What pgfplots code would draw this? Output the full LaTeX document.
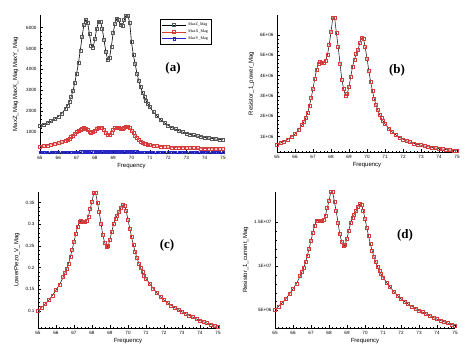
\documentclass[border=0pt]{standalone}
\usepackage{pgfplots}
\pgfplotsset{compat=1.18}
\usepackage{pgfplotstable}
\usepackage{fontspec}
\setmainfont{Liberation Sans}
\newfontfamily\serifb{Liberation Serif}
\definecolor{cred}{RGB}{215,60,60}
\definecolor{cblue}{RGB}{40,40,200}

\pgfplotstableread{
f Z X Y
65.0 1300 300 30
65.2 1360 330 31
65.4 1430 360 32
65.6 1520 390 33
65.8 1620 430 34
66.0 1740 470 35
66.2 1900 520 37
66.4 2120 590 39
66.5 2270 630 40
66.6 2450 680 42
66.7 2680 760 44
66.8 2980 840 46
66.9 3350 920 48
67.0 3800 1000 50
67.1 4300 1070 52
67.2 4900 1130 54
67.3 5550 1170 56
67.4 6150 1190 58
67.5 6380 1180 58
67.6 6250 1120 57
67.7 5700 1040 56
67.8 5150 990 56
67.9 5050 1010 57
68.0 5450 1080 58
68.1 5950 1160 59
68.2 6280 1220 60
68.3 6300 1230 60
68.4 5950 1190 59
68.5 5400 1100 58
68.6 4850 990 57
68.7 4450 880 56
68.8 4550 890 56
68.9 5100 990 57
69.0 5750 1110 58
69.1 6200 1190 59
69.2 6430 1230 60
69.3 6350 1200 60
69.4 6120 1150 60
69.5 6100 1150 60
69.6 6350 1210 61
69.7 6580 1250 62
69.8 6580 1250 62
69.9 6250 1200 61
70.0 5300 1080 59
70.1 4700 950 57
70.2 4250 830 55
70.3 3800 720 53
70.4 3450 630 51
70.5 3150 560 50
70.6 2900 500 49
70.7 2680 460 48
70.8 2500 430 47
70.9 2350 410 46
71.0 2200 390 45
71.2 1960 360 44
71.4 1760 330 43
71.6 1580 310 42
71.8 1440 295 41
72.0 1320 280 40
72.2 1220 270 40
72.4 1140 262 39
72.6 1060 255 39
72.8 1000 250 38
73.0 940 245 38
73.2 890 240 37
73.4 850 235 37
73.6 810 228 36
73.8 780 222 36
74.0 750 216 35
74.2 720 210 35
74.4 695 205 34
74.6 670 200 34
74.8 650 195 33
75.0 630 190 33
}\tableA

% P and I in units of 1E+06
\pgfplotstableread{
f P V I
65.0 0.60 0.100 5.08
65.2 0.68 0.108 5.47
65.4 0.76 0.116 5.87
65.6 0.86 0.125 6.31
65.8 0.98 0.136 6.85
66.0 1.12 0.148 7.44
66.2 1.32 0.161 8.08
66.4 1.58 0.178 8.91
66.5 1.74 0.188 9.40
66.6 1.92 0.198 9.89
66.7 2.15 0.210 10.48
66.8 2.50 0.225 11.22
66.9 2.90 0.242 12.05
67.0 3.35 0.260 12.94
67.1 3.85 0.278 13.82
67.2 4.30 0.294 14.61
67.3 4.60 0.305 15.15
67.4 4.68 0.307 15.24
67.5 4.65 0.305 15.15
67.6 4.65 0.305 15.15
67.7 4.72 0.308 15.29
67.8 5.00 0.318 15.78
67.9 5.50 0.335 16.62
68.0 6.15 0.352 17.45
68.1 6.85 0.372 18.44
68.2 6.85 0.372 18.44
68.3 6.10 0.350 17.36
68.4 5.40 0.328 16.27
68.5 4.60 0.302 15.00
68.6 3.80 0.275 13.67
68.7 3.35 0.258 12.84
68.8 3.02 0.247 12.30
68.9 3.10 0.250 12.45
69.0 3.45 0.265 13.18
69.1 3.95 0.283 14.07
69.2 4.45 0.300 14.90
69.3 4.80 0.312 15.49
69.4 5.05 0.320 15.88
69.5 5.25 0.328 16.27
69.6 5.60 0.338 16.77
69.7 5.85 0.344 17.06
69.8 5.82 0.343 17.01
69.9 5.40 0.330 16.37
70.0 4.85 0.310 15.39
70.1 4.25 0.290 14.41
70.2 3.70 0.270 13.43
70.3 3.25 0.252 12.54
70.4 2.85 0.236 11.76
70.5 2.55 0.222 11.07
70.6 2.30 0.210 10.48
70.7 2.08 0.199 9.94
70.8 1.90 0.190 9.50
70.9 1.75 0.182 9.11
71.0 1.62 0.175 8.76
71.2 1.40 0.163 8.17
71.4 1.22 0.152 7.63
71.6 1.08 0.142 7.14
71.8 0.96 0.133 6.70
72.0 0.86 0.125 6.31
72.2 0.78 0.119 6.01
72.4 0.72 0.113 5.72
72.6 0.66 0.108 5.47
72.8 0.61 0.103 5.23
73.0 0.57 0.098 4.98
73.2 0.53 0.094 4.79
73.4 0.49 0.090 4.59
73.6 0.46 0.086 4.39
73.8 0.43 0.082 4.20
74.0 0.40 0.078 4.00
74.2 0.38 0.075 3.85
74.4 0.35 0.072 3.71
74.6 0.33 0.069 3.56
74.8 0.31 0.066 3.41
75.0 0.29 0.063 3.26
}\tableB

\pgfplotsset{
  panel/.style={
    scale only axis, width=180pt, height=137pt,
    anchor=south west,
    xmin=65, xmax=75, xtick={65,66,...,75},
    minor x tick num=4, minor y tick num=4,
    axis x line*=bottom, axis y line*=left,
    tick align=inside,
    major tick length=3pt, minor tick length=1.5pt,
    tick style={black, line width=0.45pt},
    axis line style={black, line width=0.7pt},
    tick label style={font=\fontsize{4.6}{5}\selectfont},
    label style={font=\fontsize{6}{7}\selectfont},
    /pgf/number format/assume math mode=true,
    /pgf/number format/1000 sep={},
    xlabel={Frequency},
    xlabel style={yshift=3pt},
    ylabel style={yshift=-1pt},
    scaled y ticks=false,
  },
  redser/.style={black!85, line width=0.6pt, mark=square, mark size=1.5pt,
    mark options={draw=cred, solid, line width=0.5pt}},
}

\begin{document}
\begin{tikzpicture}
\path[use as bounding box] (0,0) rectangle (474pt,354pt);

% (a)
\begin{axis}[panel, at={(40pt,201pt)}, width=183pt, height=138pt,
  ymin=0, ymax=6600, ytick={1000,2000,...,6000},
  ylabel={MaxZ\_Mag MaxX\_Mag MaxY\_Mag},
  ylabel style={yshift=2pt},
  legend style={at={(0.656,0.97)}, anchor=north west, draw=black, line width=0.4pt,
    font=\serifb\fontsize{4}{4.5}\selectfont, row sep=-1.2pt, inner sep=1.5pt},
  legend cell align=left,
  legend image code/.code={\draw[mark repeat=2, mark phase=2] plot coordinates {(0pt,0pt) (12pt,0pt) (24pt,0pt)};},
  ]
\addplot[black, line width=0.6pt, mark=square, mark size=1.5pt, mark options={draw=black!65, solid, line width=0.5pt}] table[x=f, y=Z] {\tableA};
\addlegendentry{MaxZ\_Mag}
\addplot[cred, line width=0.6pt, mark=square, mark size=1.5pt, mark options={draw=cred, solid, line width=0.5pt}] table[x=f, y=X] {\tableA};
\addlegendentry{MaxX\_Mag}
\addplot[cblue, line width=0.6pt, mark=square, mark size=1.2pt, mark options={draw=cblue, solid, line width=0.4pt}] table[x=f, y=Y] {\tableA};
\addlegendentry{MaxY\_Mag}
\end{axis}

% (b)
\begin{axis}[panel, at={(277pt,202pt)}, width=180pt, height=137pt,
  ymin=0.234, ymax=6.98, ytick={1,2,...,6},
  yticklabels={1E+06,2E+06,3E+06,4E+06,5E+06,6E+06},
  ylabel={Resistor\_1\_power\_Mag},
  ]
\addplot[redser] table[x=f, y=P] {\tableB};
\end{axis}

% (c)
\begin{axis}[panel, at={(38pt,26pt)}, width=180pt, height=136pt,
  ymin=0.061, ymax=0.374, ytick={0.1,0.15,0.2,0.25,0.3,0.35},
  yticklabels={0.1,0.15,0.2,0.25,0.3,0.35},
  ylabel={LowerPiezo\_V\_Mag},
  ]
\addplot[redser] table[x=f, y=V] {\tableB};
\end{axis}

% (d)
\begin{axis}[panel, at={(275pt,26pt)}, width=180pt, height=136pt,
  ymin=3.0, ymax=18.45, ytick={5,10,15},
  yticklabels={5E+06,1E+07,1.5E+07},
  ylabel={Resistor\_1\_current\_Mag},
  ]
\addplot[redser] table[x=f, y=I] {\tableB};
\end{axis}

\node[font=\serifb\bfseries\fontsize{13}{14}\selectfont] at (173pt,286pt) {(a)};
\node[font=\serifb\bfseries\fontsize{13}{14}\selectfont] at (397pt,284pt) {(b)};
\node[font=\serifb\bfseries\fontsize{13}{14}\selectfont] at (167pt,109pt) {(c)};
\node[font=\serifb\bfseries\fontsize{13}{14}\selectfont] at (405pt,119pt) {(d)};
\end{tikzpicture}
\end{document}
